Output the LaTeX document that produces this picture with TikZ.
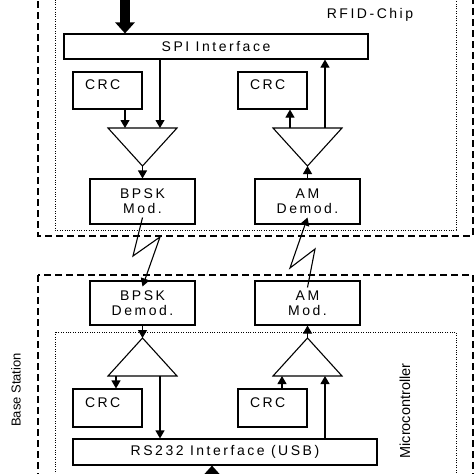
\documentclass[tikz,border=0pt]{standalone}
\usepackage{amssymb,amsmath}
\usepackage{xcolor}
\usepackage{tikz}
\usepackage{fontspec}
\usetikzlibrary{arrows.meta}
\newfontfamily\boxfont[LetterSpace=18]{Liberation Sans}
\newfontfamily\sidefont{Liberation Sans}

\begin{document}
\begin{tikzpicture}[x=1pt,y=1pt,yscale=-1,xscale=1,
  blk/.style={draw,line width=1.1pt,inner sep=0pt,font=\boxfont\fontsize{14}{15}\selectfont,align=center},
  crcbox/.style={blk,minimum width=69pt,minimum height=37pt,text width=45pt,align=left,text height=10pt,text depth=12pt},
  modbox/.style={blk,minimum width=105pt,minimum height=45pt},
  arr/.style={line width=1.1pt,-{Triangle[width=9pt,length=8pt]}},
  bigarr/.style={line width=9.5pt,-{Triangle[width=19pt,length=11pt]}},
  chip/.style={line width=2.2pt,dash pattern=on 7pt off 4pt},
  core/.style={line width=1pt,dash pattern=on 1pt off 1.4pt},
  amp/.style={line width=1.1pt,line join=miter}
]
\useasboundingbox (0,0) rectangle (474,474);

%Shape: Dashed Rectangle (RFID chip)
\draw[chip] (38,-10) rectangle (473,236);
%Shape: Dotted Rectangle
\draw[core] (55,-10) rectangle (456,230);
%Shape: Dashed Rectangle (base station)
\draw[chip] (38,275) rectangle (473,490);
%Shape: Dotted Rectangle (microcontroller)
\draw[core] (55,332) rectangle (456,490);

% Blocks
\node[blk,minimum width=304pt,minimum height=25pt] (spi) at (216,46.5) {SPI Interface};
\node[crcbox] (crc1) at (107.5,90.5) {CRC};
\node[crcbox] (crc2) at (272.5,90.5) {CRC};
\node[modbox] (bpskmod) at (142.5,201.5) {BPSK\\Mod.};
\node[modbox] (amdemod) at (307.5,201.5) {AM\\Demod.};
\node[modbox,minimum height=44pt] (bpskdemod) at (142.5,303) {BPSK\\Demod.};
\node[modbox,minimum height=44pt] (ammod) at (307.5,303) {AM\\Mod.};
\node[crcbox,minimum height=38pt] (crc3) at (107.5,408) {CRC};
\node[crcbox,minimum height=38pt] (crc4) at (272.5,408) {CRC};
\node[blk,minimum width=304pt,minimum height=26pt] (rs232) at (225,452) {RS232 Interface (USB)};

%Shape: Triangles
\coordinate (amp1) at (142.5,166);
\coordinate (amp1a) at (125,128);
\coordinate (amp1b) at (160,128);
\draw[amp] (108,128) -- (177,128) -- (amp1) -- cycle;
\coordinate (amp2) at (307.5,166);
\coordinate (amp2a) at (290,128);
\coordinate (amp2b) at (325,128);
\draw[amp] (273,128) -- (342,128) -- (amp2) -- cycle;
\coordinate (amp3) at (142.5,338);
\coordinate (amp3a) at (116,376);
\coordinate (amp3b) at (160,376);
\draw[amp] (108,376) -- (177,376) -- (amp3) -- cycle;
\coordinate (amp4) at (307.5,338);
\coordinate (amp4a) at (282,376);
\coordinate (amp4b) at (325,376);
\draw[amp] (273,376) -- (342,376) -- (amp4) -- cycle;

% Arrows chip
\draw[arr] (crc1.south -| amp1a) -- (amp1a);
\draw[arr] (spi.south -| amp1b) -- (amp1b);
\draw[arr] (amp1) -- (bpskmod.north);
\draw[arr] (amdemod.north) -- (amp2);
\draw[arr] (amp2a) -- (crc2.south -| amp2a);
\draw[arr] (amp2b) -- (spi.south -| amp2b);
% Arrows base station
\draw[arr] (bpskdemod.south) -- (amp3);
\draw[arr] (amp3a) -- (crc3.north -| amp3a);
\draw[arr] (amp3b) -- (rs232.north -| amp3b);
\draw[arr] (amp4) -- (ammod.south);
\draw[arr] (crc4.north -| amp4a) -- (amp4a);
\draw[arr] (rs232.north -| amp4b) -- (amp4b);

% Radio links
\draw[arr] ([yshift=-7pt]bpskmod.south) -- (133,256) -- (160,237) -- ([yshift=6pt]bpskdemod.north);
\draw[arr] ([yshift=7pt]ammod.north) -- (315,249) -- (290,268) -- ([yshift=-7pt]amdemod.south);

% Host lines
\coordinate (hostin) at (125,-6);
\draw[bigarr] (hostin) -- (spi.north -| hostin);
\coordinate (pcin) at (212,490);
\draw[bigarr] (pcin) -- (rs232.south -| pcin);

% Text Node
\node[font=\boxfont\fontsize{14}{15}\selectfont] (chiplbl) at (370,15) {RFID-Chip};
% Text Node
\node[rotate=90,font=\sidefont\fontsize{13}{16}\selectfont] (bslbl) at (16,390) {Base Station};
% Text Node
\node[rotate=90,font=\sidefont\fontsize{14.5}{16}\selectfont] (mclbl) at (405,411) {Microcontroller};

\end{tikzpicture}
\end{document}
